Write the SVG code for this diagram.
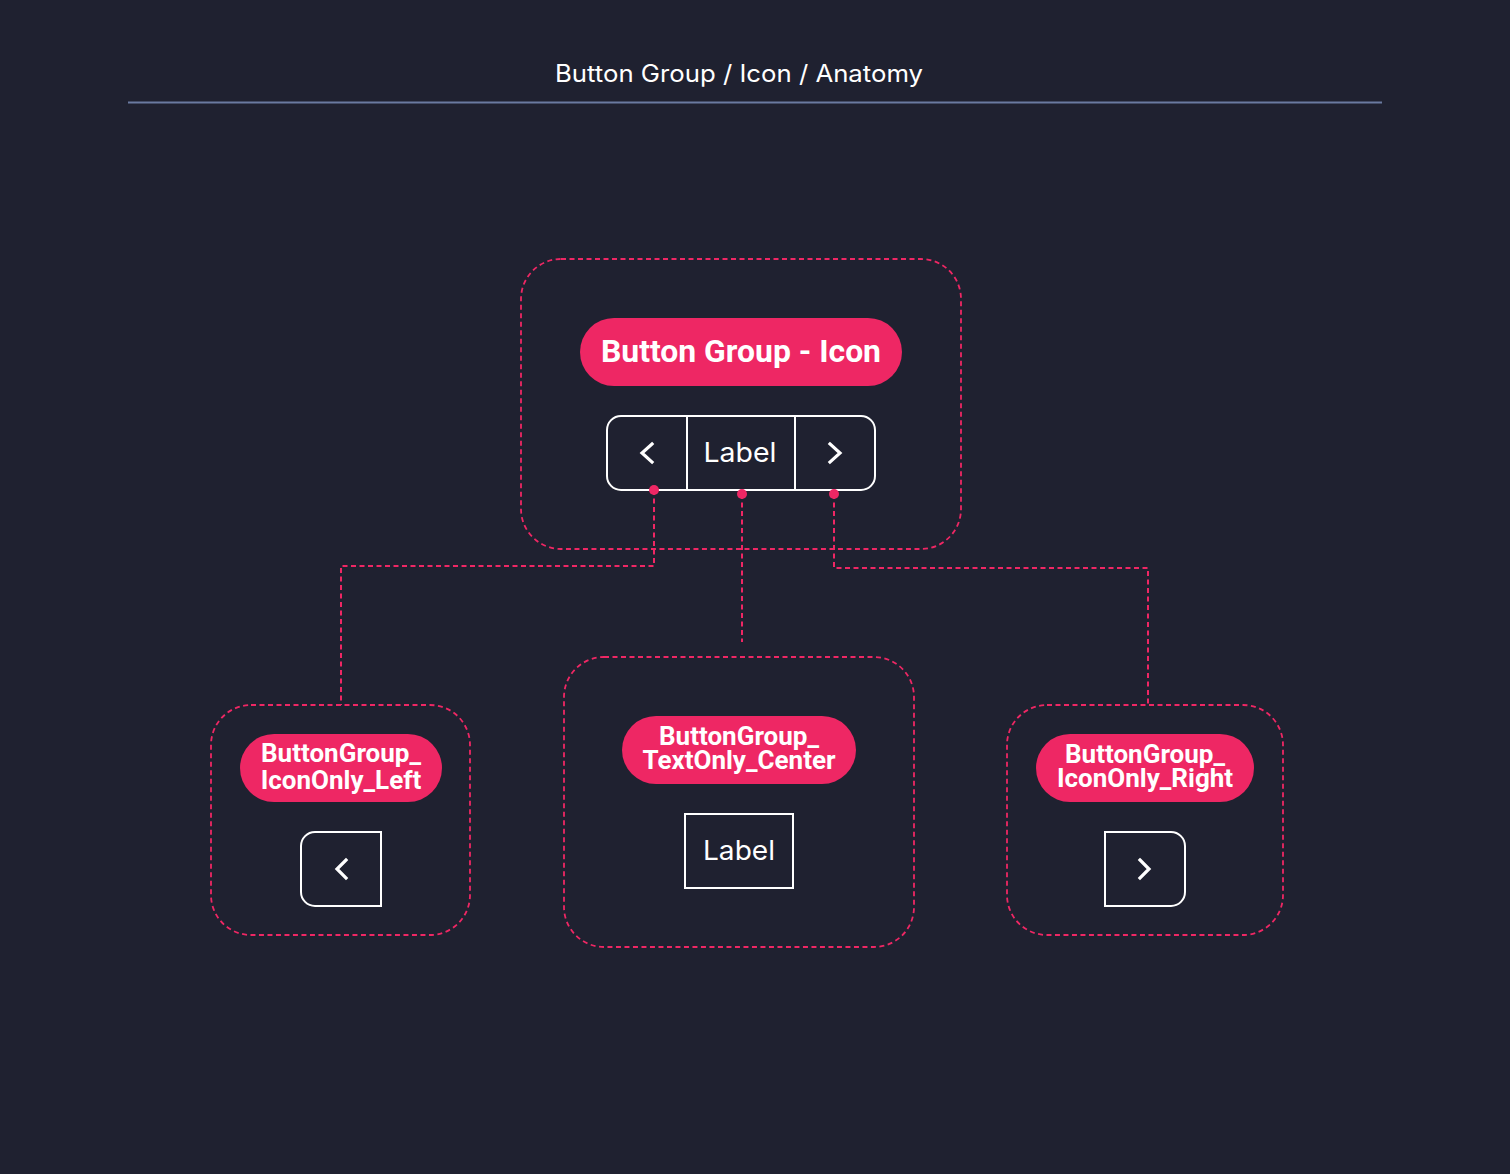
<svg xmlns="http://www.w3.org/2000/svg" width="1510" height="1174" viewBox="0 0 1510 1174">
<style>
.frame{fill:none;stroke:#EE2764;stroke-width:1.8;stroke-dasharray:5 3.5}
.conn{fill:none;stroke:#EE2764;stroke-width:2;stroke-dasharray:5 3.5}
.pill{fill:#EE2764}
.pt{font-family:Roboto,"Liberation Sans",sans-serif;font-weight:700;fill:#FFFFFF;text-anchor:middle}
.btn{fill:none;stroke:#FFFFFF;stroke-width:2}
.chev{fill:none;stroke:#FFFFFF;stroke-width:3.2;stroke-linecap:square;stroke-linejoin:miter}
.lbl{font-family:Inter,"Open Sans",sans-serif;font-size:27px;fill:#FFFFFF;text-anchor:middle}
.dot{fill:#EE2764}
</style>
<rect width="1510" height="1174" fill="#1F2130"/>
<g id="title">
<text x="739" y="82" font-family="Inter,'Open Sans',sans-serif" font-size="24" fill="#FFFFFF" text-anchor="middle" textLength="368" lengthAdjust="spacingAndGlyphs">Button Group / Icon / Anatomy</text>
<line x1="128" y1="102.5" x2="1382" y2="102.5" stroke="#6A7AA0" stroke-width="2"/>
</g>
<g id="connectors">
<polyline class="conn" points="654,490 654,566 341,566 341,705"/>
<polyline class="conn" points="742,494 742,642"/>
<polyline class="conn" points="834,494 834,568 1148,568 1148,705"/>
</g>
<g id="node-main">
<rect class="frame" x="521" y="259" width="440" height="290" rx="40"/>
<rect class="pill" x="580" y="318" width="322" height="68" rx="34"/>
<text class="pt" x="741" y="362" font-size="31" textLength="280" lengthAdjust="spacingAndGlyphs">Button Group - Icon</text>
<rect class="btn" x="607" y="416" width="268" height="74" rx="14"/>
<line class="btn" x1="687" y1="416" x2="687" y2="490"/>
<line class="btn" x1="795" y1="416" x2="795" y2="490"/>
<polyline class="chev" points="652,444 642,453 652,462"/>
<polyline class="chev" points="830,444 840,453 830,462"/>
<text class="lbl" x="740" y="462" textLength="73" lengthAdjust="spacingAndGlyphs">Label</text>
<circle class="dot" cx="654" cy="490" r="5"/>
<circle class="dot" cx="742" cy="494" r="5"/>
<circle class="dot" cx="834" cy="494" r="5"/>
</g>
<g id="node-left">
<rect class="frame" x="211" y="705" width="259" height="230" rx="40"/>
<rect class="pill" x="240" y="734" width="202" height="68" rx="34"/>
<text class="pt" font-size="26"><tspan x="341" y="762">ButtonGroup_</tspan><tspan x="341" y="789">IconOnly_Left</tspan></text>
<path class="btn" d="M381,832 L315,832 A14,14 0 0 0 301,846 L301,892 A14,14 0 0 0 315,906 L381,906 Z"/>
<polyline class="chev" points="346,860 337,869 346,878"/>
</g>
<g id="node-center">
<rect class="frame" x="564" y="657" width="350" height="290" rx="40"/>
<rect class="pill" x="622" y="716" width="234" height="68" rx="34"/>
<text class="pt" font-size="26"><tspan x="739" y="745">ButtonGroup_</tspan><tspan x="739" y="769">TextOnly_Center</tspan></text>
<rect class="btn" x="685" y="814" width="108" height="74"/>
<text class="lbl" x="739" y="860" textLength="72" lengthAdjust="spacingAndGlyphs">Label</text>
</g>
<g id="node-right">
<rect class="frame" x="1007" y="705" width="276" height="230" rx="40"/>
<rect class="pill" x="1036" y="734" width="218" height="68" rx="34"/>
<text class="pt" font-size="26"><tspan x="1145" y="763">ButtonGroup_</tspan><tspan x="1145" y="787">IconOnly_Right</tspan></text>
<path class="btn" d="M1105,832 L1171,832 A14,14 0 0 1 1185,846 L1185,892 A14,14 0 0 1 1171,906 L1105,906 Z"/>
<polyline class="chev" points="1140,860 1149,869 1140,878"/>
</g>
</svg>
